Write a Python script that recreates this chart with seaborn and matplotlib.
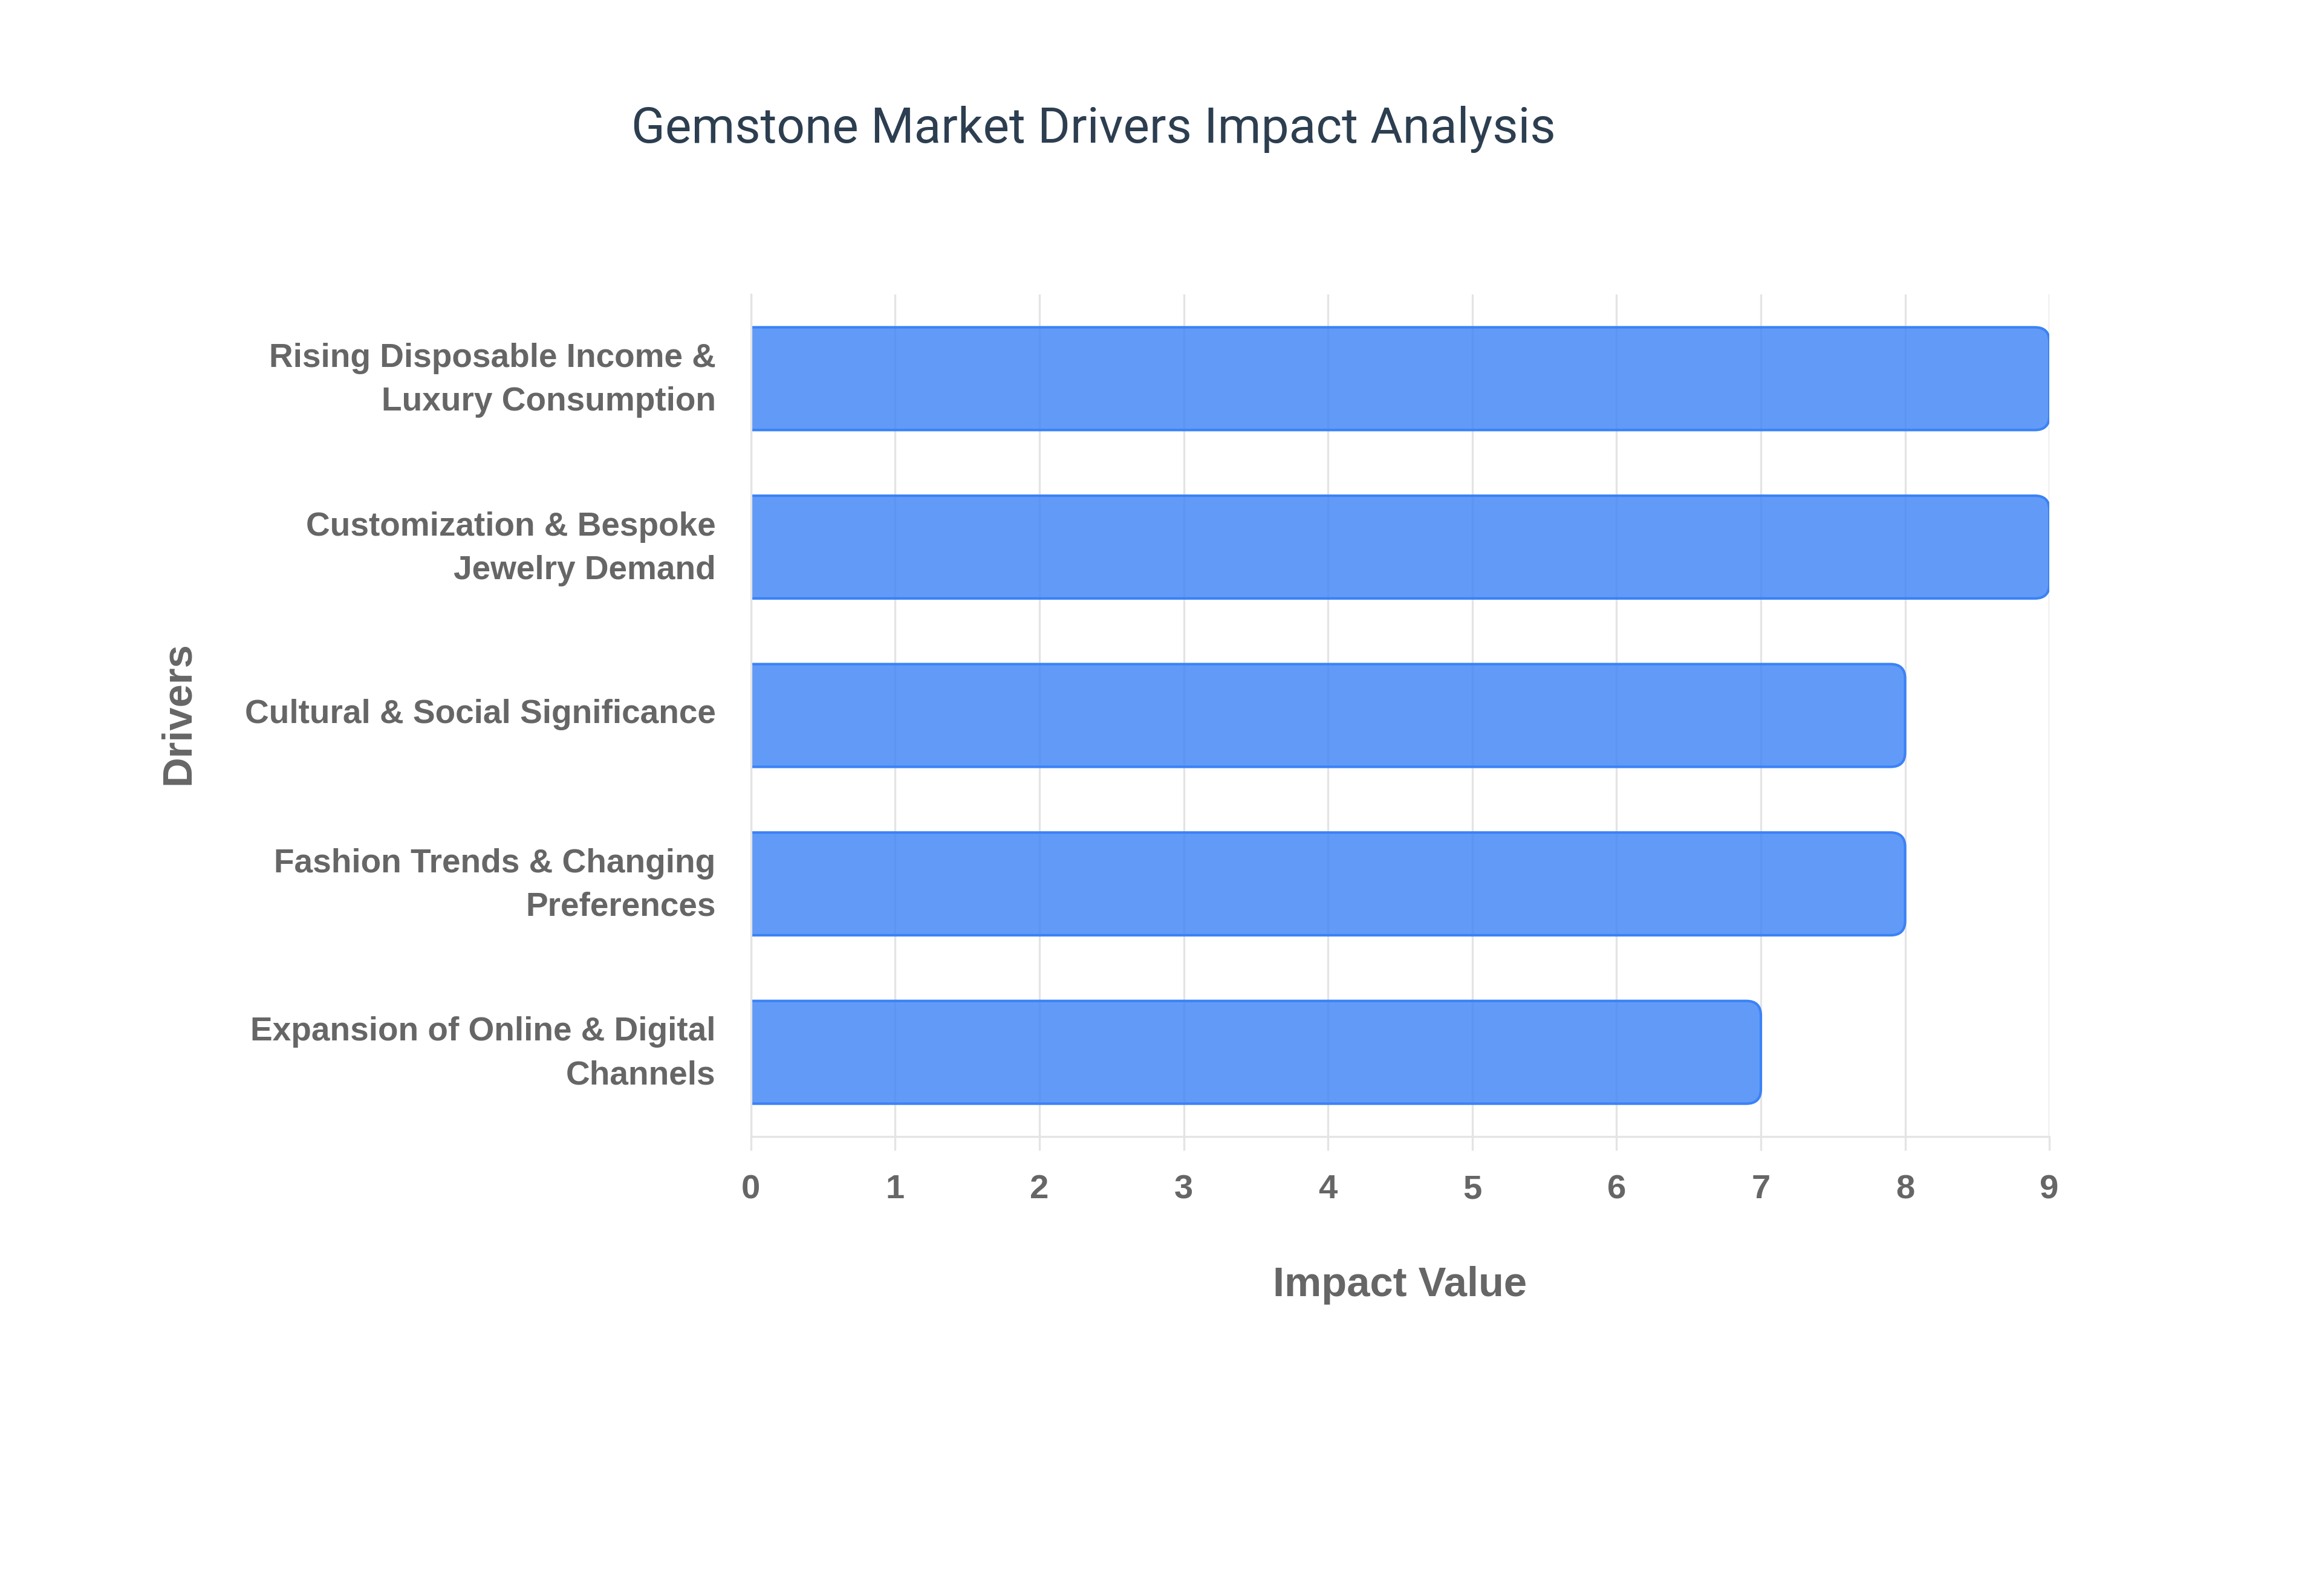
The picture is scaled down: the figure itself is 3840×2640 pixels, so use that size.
import matplotlib
matplotlib.use("Agg")
import matplotlib.pyplot as plt
import matplotlib.transforms as mtransforms
from matplotlib.patches import FancyBboxPatch
import seaborn as sns
import pandas as pd

# Market drivers (top to bottom) and their impact values
drivers = [
    "Rising Disposable Income &\nLuxury Consumption",
    "Customization & Bespoke\nJewelry Demand",
    "Cultural & Social Significance",
    "Fashion Trends & Changing\nPreferences",
    "Expansion of Online & Digital\nChannels",
]
impact = [9, 9, 8, 8, 7]
x_ticks = [0, 1, 2, 3, 4, 5, 6, 7, 8, 9]

df = pd.DataFrame({"Driver": drivers, "Impact": impact})

sns.set_theme(style="white")
plt.rcParams["font.family"] = ["Liberation Sans", "DejaVu Sans"]

BAR = "#3b82f6"
GRID = "#e4e4e4"
LABEL = "#666666"

fig = plt.figure(figsize=(12.8, 8.8), dpi=300)
ax = fig.add_axes([0.3234, 0.2879, 0.5592, 0.5276])

sns.barplot(data=df, x="Impact", y="Driver", orient="h", color=BAR,
            width=0.61, ax=ax)

# swap the square bars for ones with a rounded right end
for p in list(ax.patches):
    x0, y0 = p.get_x(), p.get_y()
    w, h = p.get_width(), p.get_height()
    p.set_visible(False)
    box = FancyBboxPatch((x0 - 0.3, y0), w + 0.3, h,
                         boxstyle="round,pad=0,rounding_size=0.1",
                         mutation_aspect=0.86,
                         facecolor=(59/255, 130/255, 246/255, 0.8),
                         edgecolor=BAR, linewidth=1.0, zorder=2)
    ax.add_patch(box)

ax.set_xlim(0, 9)
ax.set_ylim(4.5, -0.5)
ax.set_xticks(x_ticks)
ax.set_axisbelow(True)
ax.grid(axis="x", color=GRID, linewidth=0.8)
ax.grid(axis="y", visible=False)

for side in ["top", "right"]:
    ax.spines[side].set_visible(False)
for side in ["left", "bottom"]:
    ax.spines[side].set_color(GRID)
    ax.spines[side].set_linewidth(0.8)

ax.tick_params(axis="x", direction="out", length=5.5, width=0.8, color=GRID,
               pad=9.5, labelsize=13.5, labelcolor=LABEL, bottom=True)
ax.tick_params(axis="y", length=0, pad=14, labelsize=13.2, labelcolor=LABEL)
for lab in ax.get_xticklabels() + ax.get_yticklabels():
    lab.set_fontweight("bold")
for lab in ax.get_yticklabels():
    lab.set_linespacing(1.5)
    # nudge labels up a little, like the reference
    dy = 3.2 if "\n" in lab.get_text() else 1.8
    lab.set_transform(lab.get_transform() +
                      mtransforms.ScaledTranslation(0, dy / 72, fig.dpi_scale_trans))

ax.set_xlabel("Impact Value", fontsize=16.5, fontweight="bold", color=LABEL)
ax.set_ylabel("Drivers", fontsize=16.5, fontweight="bold", color=LABEL)
ax.xaxis.set_label_coords(0.5, -0.177)
ax.xaxis.label.set_va("center")
ax.yaxis.set_label_coords(-0.441, 0.503)
ax.yaxis.label.set_va("center")

fig.text(0.471, 0.919, "Gemstone Market Drivers Impact Analysis",
         ha="center", va="center", fontsize=19.7, color="#2c3e50",
         family=["Roboto", "DejaVu Sans"])

fig.savefig("out.png", dpi=300, facecolor="white")
